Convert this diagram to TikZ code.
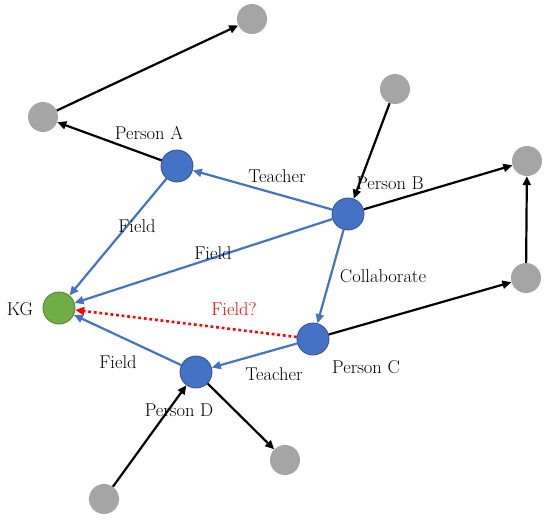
\documentclass[tikz,border=0pt]{standalone}
\usetikzlibrary{arrows.meta}
\definecolor{nblue}{HTML}{4472C4}
\definecolor{nbluedark}{HTML}{2F528F}
\definecolor{ngray}{HTML}{A5A5A5}
\definecolor{ngreen}{HTML}{70AD47}
\definecolor{ngreendark}{HTML}{507E32}
\tikzset{
  person/.style={circle,fill=nblue,draw=nbluedark,line width=0.8pt,minimum size=32pt,inner sep=0pt},
  kgnode/.style={circle,fill=ngreen,draw=ngreendark,line width=0.8pt,minimum size=32pt,inner sep=0pt},
  other/.style={circle,fill=ngray,draw=none,minimum size=30pt,inner sep=0pt},
  blk/.style={line width=2.2pt,black,-{Triangle[length=9pt,width=8pt]}},
  blu/.style={line width=2.2pt,nblue,-{Triangle[length=9pt,width=8pt]}},
  reddot/.style={line width=2.6pt,red,dash pattern=on 2.8pt off 2.8pt,-{Triangle[length=9pt,width=8pt]}},
  lab/.style={font=\fontsize{18.5}{20}\selectfont,inner sep=0pt,text=black},
}
\begin{document}
\begin{tikzpicture}[x=1pt,y=-1pt]
\useasboundingbox (0,0) rectangle (550,520);
% nodes
\node[other] (g1) at (252,19) {};
\node[other] (g2) at (43,117) {};
\node[person] (A) at (177,166) {};
\node[person] (B) at (348,214) {};
\node[other] (g3) at (395,89) {};
\node[other] (g4) at (527,161) {};
\node[other] (g5) at (526,278) {};
\node[kgnode] (KG) at (59,308) {};
\node[person] (C) at (313,339) {};
\node[person] (D) at (196,372) {};
\node[other] (g6) at (285,460) {};
\node[other] (g7) at (104,499) {};
% edges
\draw[blk] (g2) -- (g1);
\draw[blk] (A) -- (g2);
\draw[blu] (B) -- (A);
\draw[blu] (A) -- (KG);
\draw[blu] (B) -- (KG);
\draw[blu] (B) -- (C);
\draw[blk] (g3) -- (B);
\draw[blk] (B) -- (g4);
\draw[blk] (g5) -- (g4);
\draw[blk] (C) -- (g5);
\draw[reddot] (C) -- (KG);
\draw[blu] (C) -- (D);
\draw[blu] (D) -- (KG);
\draw[blk] (g7) -- (D);
\draw[blk] (D) -- (g6);
% labels
\node[lab] (lA) at (149,133) {Person A};
\node[lab] (lB) at (390,183) {Person B};
\node[lab] (lC) at (366,367) {Person C};
\node[lab] (lD) at (179,410) {Person D};
\node[lab] (lKG) at (20,309) {KG};
\node[lab] (lT1) at (277,176) {Teacher};
\node[lab] (lT2) at (274,374) {Teacher};
\node[lab] (lF1) at (137,226) {Field};
\node[lab] (lF2) at (213,253) {Field};
\node[lab] (lF3) at (118,362) {Field};
\node[lab] (lCo) at (383,276) {Collaborate};
\node[lab,text=red] (lFq) at (234,309) {Field?};
\end{tikzpicture}
\end{document}
